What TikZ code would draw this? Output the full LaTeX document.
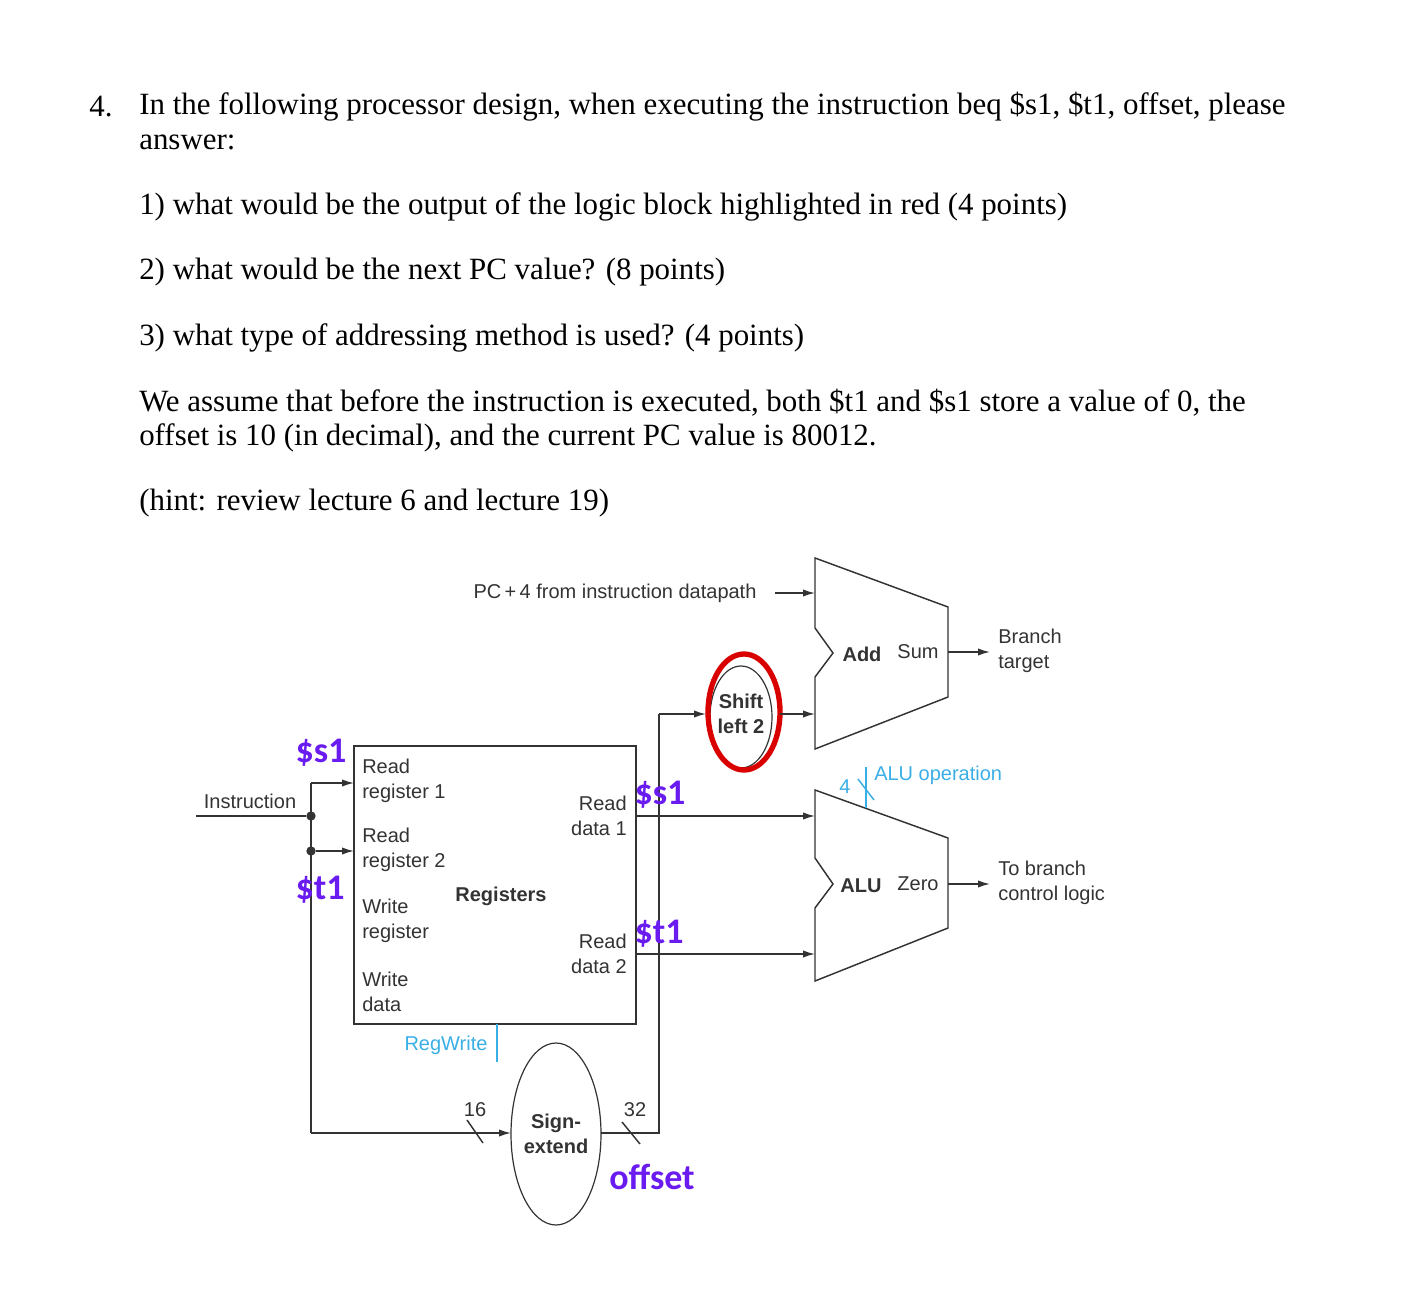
\documentclass[tikz,border=0pt]{standalone}
\usepackage{fontspec}
\setmainfont{Liberation Serif}
\setsansfont{Liberation Sans}
\newfontfamily\purp{Carlito}
\usetikzlibrary{arrows.meta}
\definecolor{pur}{HTML}{6A1BF0}
\definecolor{cy}{HTML}{3AAEE6}
\definecolor{ln}{HTML}{333333}
\begin{document}
\begin{tikzpicture}[x=0.75pt,y=-0.75pt,
  q/.style={anchor=west,font=\fontsize{23.2}{26}\selectfont,inner sep=0},
  lb/.style={font=\sffamily\fontsize{15}{19}\selectfont,inner sep=0,text=ln},
  lbb/.style={lb,font=\sffamily\bfseries\fontsize{15}{19}\selectfont},
  pl/.style={font=\purp\bfseries\fontsize{27}{30}\selectfont,text=pur,inner sep=0},
  wire/.style={draw=ln,line width=1.1pt},
  arr/.style={wire,-{Latex[length=9pt,width=5.5pt]}},
  dot/.style={circle,fill=ln,inner sep=0,minimum size=7pt}]
\useasboundingbox (0,0) rectangle (1402,1306);
% question text
\node[q,anchor=center] (n4) at (101,107) {4.};
\node[q] (t1) at (139,107) {In the following processor design, when executing the instruction beq \$s1, \$t1, offset, please};
\node[q] (t2) at (139,142) {answer:};
\node[q] (t3) at (139,207) {1) what would be the output of the logic block highlighted in red (4 points)};
\node[q] (t4) at (139,272) {2) what would be the next PC value? (8 points)};
\node[q] (t5) at (139,338) {3) what type of addressing method is used? (4 points)};
\node[q] (t6) at (139,403) {We assume that before the instruction is executed, both \$t1 and \$s1 store a value of 0, the};
\node[q] (t7) at (139,438) {offset is 10 (in decimal), and the current PC value is 80012.};
\node[q] (t8) at (139,503) {(hint: review lecture 6 and lecture 19)};
% registers
\draw[draw=ln,line width=1.1pt] (354,746) rectangle (636,1024);
\node[lb,anchor=west,align=left] (rr1) at (362,781) {Read\\register 1};
\node[lb,anchor=west,align=left] (rr2) at (362,850) {Read\\register 2};
\node[lb,anchor=west,align=left] (wr) at (362,921) {Write\\register};
\node[lb,anchor=west,align=left] (wd) at (362,992) {Write\\data};
\node[lbb] (regs) at (501,896) {Registers};
\node[lb,anchor=east,align=right] (rd1) at (627,816) {Read\\data 1};
\node[lb,anchor=east,align=right] (rd2) at (627,954) {Read\\data 2};
\coordinate (R1in) at (354,783);
\coordinate (R2in) at (354,851);
\coordinate (D1out) at (636,816);
\coordinate (D2out) at (636,954);
% instruction
\node[lb] (instr) at (250,801) {Instruction};
\coordinate (ins0) at (196,816);
\node[dot] (d1) at (311,816) {};
\node[dot] (d2) at (311,851) {};
\coordinate (vtop) at (311,783);
\coordinate (vbot) at (311,1133);
\draw[wire] (ins0) -- (d1);
\draw[arr] (vtop) -- (R1in);
\draw[wire] (vtop) -- (vbot);
\draw[arr] (d2) -- (R2in);
% sign extend
\draw[draw=ln,line width=0.9pt] (556,1134) ellipse [x radius=45, y radius=91];
\coordinate (seL) at (511,1133);
\coordinate (seR) at (601,1133);
\node[lbb,align=center] (setx) at (556,1134) {Sign-\\extend};
\draw[arr] (vbot) -- (seL);
\draw[wire] (467,1120) -- (483,1143);
\node[lb] (n16) at (475,1110) {16};
\coordinate (c1) at (659,1133);
\coordinate (c2) at (659,714);
\draw[wire] (seR) -- (c1) -- (c2);
\draw[wire] (622,1122) -- (640,1144);
\node[lb] (n32) at (635,1110) {32};
% shift left
\draw[draw=ln,line width=0.9pt] (741,717) ellipse [x radius=31, y radius=51];
\draw[draw=red!85!black,line width=4pt] (744,712) ellipse [x radius=36, y radius=58];
\node[lbb,align=center] (sl) at (741,714) {Shift\\left 2};
\coordinate (slL) at (706,714);
\coordinate (slR) at (780,714);
\draw[arr] (c2) -- (slL);
% adder
\draw[draw=ln,line width=1.1pt] (815,558) -- (948,607) -- (948,697) -- (815,749) -- (815,677) -- (833,653) -- (815,628) -- cycle;
\node[lbb] (add) at (862,654) {Add};
\node[lb] (sum) at (918,652) {Sum};
\coordinate (addA) at (815,593);
\coordinate (addB) at (815,714);
\coordinate (addO) at (948,652);
\draw[arr] (slR) -- (addB);
\node[lb] (pc4) at (615,593) {PC\,+\,4 from instruction datapath};
\coordinate (pc4e) at (775,593);
\draw[arr] (pc4e) -- (addA);
\node[lb,anchor=west,align=left] (bt) at (998,651) {Branch\\target};
\coordinate (btin) at (990,652);
\draw[arr] (addO) -- (btin);
% ALU
\draw[draw=ln,line width=1.1pt] (815,790) -- (948,838) -- (948,928) -- (815,981) -- (815,908) -- (833,884) -- (815,858) -- cycle;
\node[lbb] (alu) at (861,886) {ALU};
\node[lb] (zero) at (918,884) {Zero};
\coordinate (aluA) at (815,816);
\coordinate (aluB) at (815,954);
\coordinate (aluO) at (948,884);
\draw[arr] (D1out) -- (aluA);
\draw[arr] (D2out) -- (aluB);
\node[lb,anchor=west,align=left] (tb) at (998,883) {To branch\\control logic};
\coordinate (tbin) at (990,884);
\draw[arr] (aluO) -- (tbin);
% ALU op
\coordinate (op1) at (866,767);
\coordinate (op2) at (866,808);
\draw[draw=cy,line width=1.1pt] (op1) -- (op2);
\draw[draw=cy,line width=1.1pt] (858,779) -- (874,800);
\node[lb,text=cy] (four) at (845,787) {4};
\node[lb,text=cy,anchor=west] (aop) at (874,775) {ALU operation};
% RegWrite
\coordinate (rw1) at (497,1024);
\coordinate (rw2) at (497,1062);
\draw[draw=cy,line width=1.1pt] (rw1) -- (rw2);
\node[lb,text=cy] (rw) at (446,1045) {RegWrite};
% purple labels
\node[pl] (ps1) at (321,753) {\$s1};
\node[pl] (pt1) at (320,890) {\$t1};
\node[pl] (ps1b) at (660,795) {\$s1};
\node[pl] (pt1b) at (659,934) {\$t1};
\node[pl] (off) at (652,1177) {offset};
\end{tikzpicture}
\end{document}
